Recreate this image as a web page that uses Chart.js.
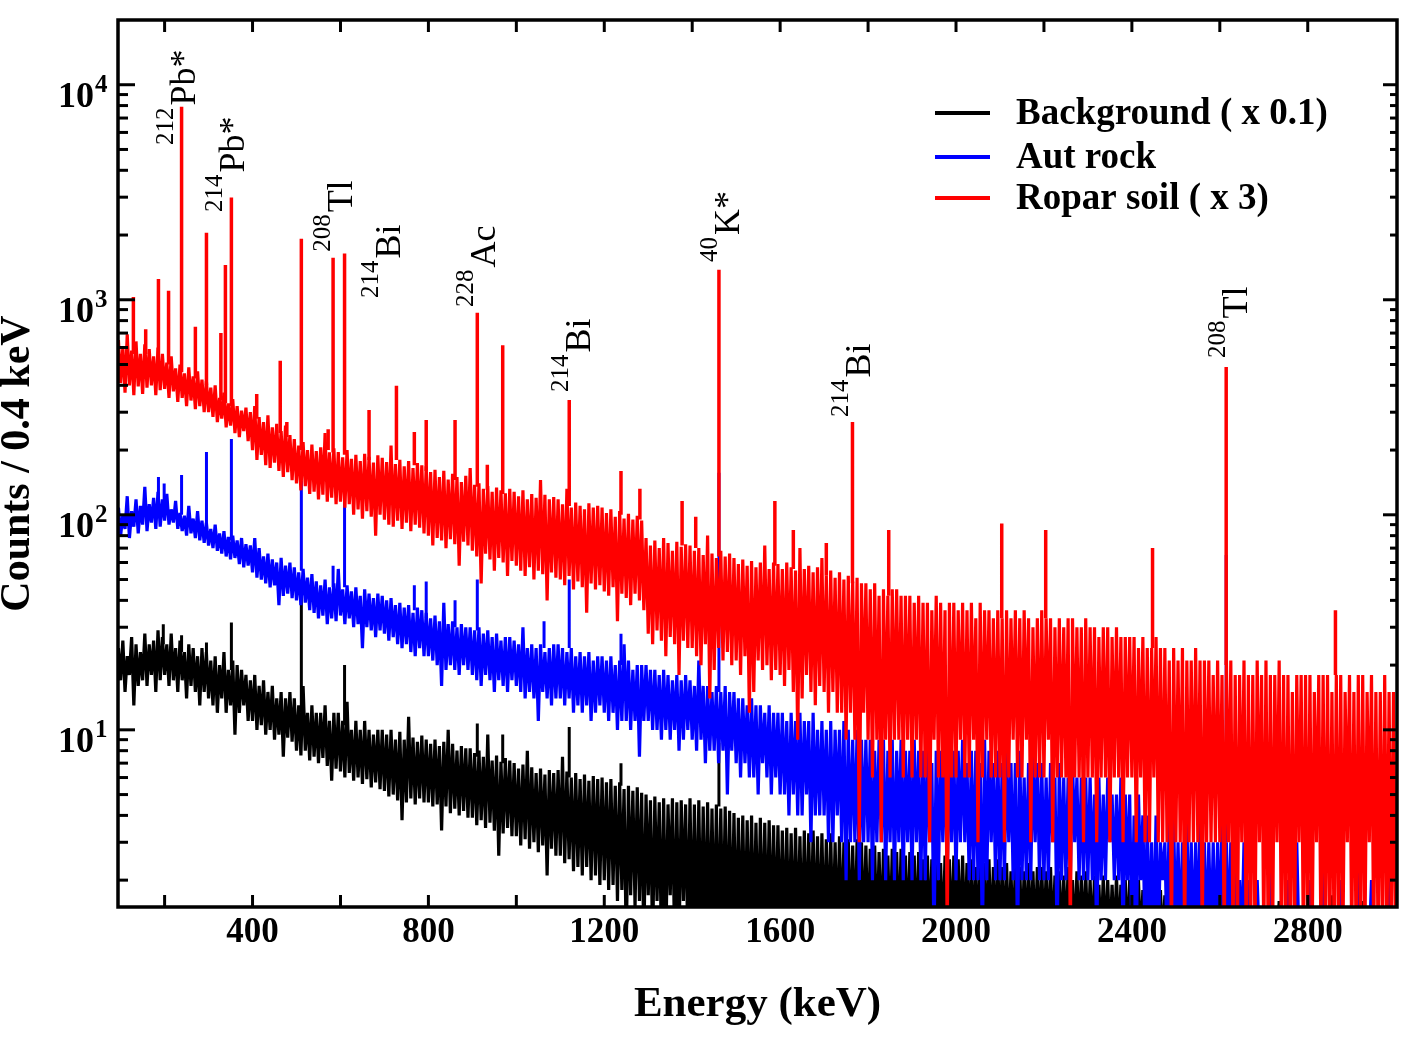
<!DOCTYPE html>
<html>
<head>
<meta charset="utf-8">
<title>Gamma-ray spectra</title>
<script src="https://cdn.jsdelivr.net/npm/chart.js@4.4.1/dist/chart.umd.min.js"></script>
<style>
  html, body { margin: 0; padding: 0; background: #fff; }
  canvas { display: block; }
</style>
</head>
<body>
<canvas id="spec" width="1416" height="1061"></canvas>
<script>
// ============================================================
// SPECTRA: 10 keV bins from 95 keV, hi = upper edge, lo = lower edge of the noise band
// (1 means the channel falls to zero, i.e. below the axis)
// ============================================================
const E_START = 95, E_STEP = 10;

const redHi = [
  650, 600, 690, 580, 640, 560, 620, 590, 545, 600,
  560, 510, 545, 480, 500, 455, 485, 440, 465, 425,
  420, 390, 400, 350, 370, 330, 345, 320, 305, 315,
  300, 320, 285, 270, 290, 255, 265, 245, 260, 235,
  225, 210, 218, 200, 212, 198, 206, 240, 195, 204,
  196, 185, 200, 182, 190, 178, 192, 186, 175, 189,
  184, 176, 210, 172, 180, 168, 178, 165, 174, 170,
  168, 158, 162, 150, 160, 146, 155, 150, 142, 152,
  165, 138, 140, 132, 136, 128, 134, 130, 126, 132,
  128, 122, 130, 118, 125, 120, 145, 124, 118, 121,
  118, 112, 132, 108, 114, 110, 106, 113, 108, 110,
  108, 102, 106, 98, 104, 96, 101, 95, 99, 94,
  78, 72, 76, 70, 78, 74, 68, 75, 71, 73,
  72, 68, 70, 65, 80, 66, 63, 68, 64, 66,
  63, 59, 62, 58, 61, 57, 60, 72, 56, 60,
  59, 56, 60, 57, 55, 70, 56, 58, 54, 57,
  63, 52, 55, 51, 54, 50, 52, 49, 51, 48,
  48, 45, 48, 42, 45, 42, 45, 45, 42, 42,
  42, 39, 42, 39, 39, 36, 42, 39, 36, 39,
  39, 36, 39, 36, 39, 33, 39, 36, 36, 33,
  36, 33, 36, 33, 36, 33, 36, 33, 30, 33,
  36, 33, 33, 30, 33, 30, 33, 33, 30, 30,
  33, 30, 30, 27, 30, 30, 27, 30, 27, 27,
  27, 27, 24, 27, 24, 24, 27, 24, 24, 21,
  24, 21, 24, 21, 21, 24, 21, 21, 21, 18,
  21, 18, 21, 21, 18, 18, 21, 18, 18, 21,
  18, 21, 18, 18, 21, 18, 18, 15, 18, 18,
  18, 18, 15, 18, 18, 18, 15, 18, 18, 15,
  18, 15, 18, 18, 15, 18, 15, 15, 18, 15,
  15
];
const redLo = [
  410, 370, 400, 360, 395, 365, 390, 400, 360, 380,
  385, 350, 375, 335, 350, 320, 340, 310, 320, 300,
  300, 285, 270, 280, 255, 260, 240, 230, 245, 220,
  200, 180, 190, 170, 165, 175, 160, 150, 158, 145,
  140, 130, 136, 125, 128, 118, 124, 115, 120, 112,
  115, 108, 112, 100, 106, 96, 104, 98, 80, 100,
  95, 90, 88, 94, 86, 92, 84, 90, 87, 82,
  80, 72, 78, 76, 70, 77, 73, 58, 75, 72,
  68, 64, 48, 66, 62, 55, 63, 60, 52, 61,
  58, 55, 52, 57, 50, 55, 53, 40, 54, 51,
  50, 47, 52, 45, 49, 46, 35, 48, 45, 47,
  44, 42, 46, 32, 43, 41, 38, 43, 40, 36,
  28, 25, 29, 26, 22, 27, 25, 18, 26, 24,
  24, 22, 20, 25, 14, 19, 24, 21, 23, 20,
  21, 18, 22, 12, 15, 21, 19, 20, 17, 19,
  18, 16, 19, 15, 9, 14, 18, 15, 13, 16,
  15, 12, 15, 12, 12, 9, 12, 9, 3, 12,
  9, 6, 9, 3, 9, 6, 9, 9, 6, 9,
  6, 9, 6, 6, 3, 9, 6, 6, 1, 6,
  6, 9, 6, 6, 9, 3, 6, 9, 6, 6,
  6, 3, 6, 9, 6, 6, 9, 3, 6, 6,
  6, 9, 3, 6, 6, 6, 1, 6, 6, 3,
  6, 6, 3, 6, 6, 3, 6, 6, 3, 6,
  6, 3, 6, 3, 3, 6, 3, 3, 3, 1,
  3, 3, 1, 3, 3, 3, 1, 3, 3, 3,
  3, 1, 3, 1, 1, 3, 1, 1, 1, 3,
  1, 1, 1, 3, 1, 1, 1, 1, 3, 1,
  1, 1, 3, 1, 1, 1, 1, 1, 1, 3,
  1, 1, 1, 1, 3, 1, 1, 1, 1, 1,
  1
];

const blueHi = [
  108, 100, 122, 104, 118, 110, 135, 112, 120, 128,
  118, 125, 106, 116, 102, 99, 110, 96, 104, 94,
  92, 86, 90, 82, 84, 79, 80, 76, 78, 73,
  72, 78, 70, 64, 66, 62, 60, 63, 58, 60,
  57, 54, 56, 51, 53, 49, 47, 50, 46, 48,
  56, 45, 47, 44, 46, 42, 45, 43, 41, 43,
  42, 40, 41, 38, 39, 37, 38, 35, 37, 36,
  35, 33, 34, 32, 39, 31, 32, 30, 31, 30,
  30, 29, 30, 28, 29, 27, 28, 26, 27, 27,
  26, 25, 30, 24, 25, 24, 25, 23, 24, 25,
  25, 24, 23, 24, 22, 23, 22, 23, 21, 22,
  22, 21, 22, 20, 21, 25, 21, 19, 20, 20,
  20, 19, 19, 18, 19, 18, 17, 18, 17, 18,
  17, 16, 21, 16, 16, 15, 16, 15, 16, 15,
  15, 14, 14, 13, 14, 13, 13, 12, 13, 12,
  12, 12, 11, 12, 11, 12, 11, 11, 12, 10,
  11, 10, 11, 10, 10, 11, 10, 9, 10, 9,
  9, 9, 8, 9, 9, 8, 9, 8, 9, 8,
  8, 9, 8, 8, 9, 7, 8, 8, 9, 8,
  8, 8, 9, 7, 8, 8, 7, 9, 8, 7,
  8, 7, 8, 7, 7, 8, 6, 7, 8, 7,
  7, 6, 7, 6, 7, 6, 6, 7, 6, 6,
  6, 6, 5, 6, 5, 6, 5, 5, 6, 5,
  5, 4, 5, 4, 4, 3, 4, 3, 3, 4,
  4, 3, 3, 4, 3, 3, 4, 3, 3, 3,
  3, 4, 3, 3, 3, 2, 3, 2, 1, 2,
  1, 1, 3, 1, 1, 1, 2, 1, 3, 1,
  1, 2, 1, 1, 3, 1, 1, 1, 2, 1,
  1, 1, 3, 1, 1, 2, 1, 1, 1, 3,
  1
];
const blueLo = [
  80, 86, 78, 88, 82, 90, 84, 92, 86, 88,
  94, 90, 92, 86, 84, 80, 82, 78, 76, 74,
  72, 70, 68, 66, 64, 62, 63, 59, 57, 58,
  54, 51, 50, 48, 46, 47, 38, 42, 43, 41,
  40, 38, 39, 36, 35, 33, 34, 31, 33, 32,
  34, 31, 33, 30, 31, 24, 30, 29, 27, 29,
  28, 26, 27, 25, 24, 25, 23, 22, 24, 22,
  22, 21, 20, 16, 19, 20, 19, 18, 20, 19,
  18, 17, 16, 18, 17, 15, 17, 16, 15, 17,
  16, 15, 14, 15, 14, 11, 15, 14, 13, 14,
  14, 13, 14, 12, 13, 12, 13, 11, 12, 13,
  12, 11, 12, 10, 11, 11, 10, 11, 7.5, 11,
  11, 10, 10, 9, 10, 9, 10, 8, 9, 10,
  9, 8, 9, 7, 8, 8, 7, 8, 5, 8,
  7, 6, 7, 6, 6, 5, 7, 6, 5, 6,
  5, 5, 4, 5, 4, 4, 5, 3, 4, 4,
  4, 3, 3, 4, 3, 2, 3, 3, 2, 3,
  3, 2, 3, 3, 2, 3, 2, 3, 2, 3,
  2, 3, 2, 2, 3, 1, 2, 3, 2, 3,
  2, 3, 3, 2, 2, 2, 1, 2, 3, 2,
  2, 2, 3, 2, 1, 2, 2, 2, 3, 2,
  2, 2, 3, 1, 2, 2, 2, 3, 2, 2,
  2, 2, 1, 2, 2, 3, 2, 2, 1, 2,
  1, 1, 2, 1, 1, 1, 1, 2, 1, 1,
  1, 1, 1, 1, 1, 1, 1, 1, 1, 1,
  1, 1, 1, 1, 1, 1, 1, 1, 1, 1,
  1, 1, 1, 1, 1, 1, 1, 1, 1, 1,
  1, 1, 1, 1, 1, 1, 1, 1, 1, 1,
  1, 1, 1, 1, 1, 1, 1, 1, 1, 1,
  1
];

const blackHi = [
  24, 26, 22, 27, 25, 23, 28, 25, 26, 29,
  27, 25, 28, 24, 26, 23, 25, 24, 22, 24,
  23, 21, 22, 20, 23, 19, 21, 20, 19, 18,
  17, 18, 16, 17, 15, 16, 14, 15, 14, 15,
  14, 13, 16, 12, 13, 12, 12, 13, 11, 12,
  12, 11, 13.5, 10, 11, 10, 11, 10, 9.5, 10,
  10, 9.5, 10, 9, 9.8, 9, 11.5, 9.2, 8.8, 9.4,
  9, 8.6, 9, 8.4, 8.8, 10, 8.6, 8, 8.4, 8.2,
  8.2, 7.8, 8, 7.5, 9.5, 7.2, 7.6, 7.1, 7.4, 7.2,
  7, 6.6, 6.9, 8, 6.7, 6.3, 6.6, 6.2, 6.5, 6.3,
  6.5, 7.5, 6.4, 6, 6.3, 5.9, 6.2, 5.8, 6.1, 5.9,
  6, 5.7, 5.9, 5.5, 5.7, 5.3, 5.5, 5.2, 5.4, 5.1,
  5, 4.7, 4.9, 4.6, 4.8, 4.5, 4.8, 4.6, 4.7, 4.5,
  4.8, 4.5, 4.7, 4.4, 4.6, 4.3, 4.5, 4.3, 4.4, 4.2,
  4.1, 3.9, 4, 3.8, 4, 3.7, 3.9, 3.7, 3.8, 3.6,
  3.6, 3.4, 3.5, 3.3, 3.5, 3.2, 3.4, 3.3, 3.4, 3.2,
  3.3, 3.1, 3.3, 3, 3.2, 3, 3.1, 2.9, 3.1, 3,
  2.9, 2.8, 2.9, 2.7, 2.8, 2.6, 2.8, 2.7, 2.8, 2.6,
  2.7, 2.6, 2.7, 2.5, 2.6, 2.5, 2.7, 2.4, 2.6, 2.5,
  2.6, 2.5, 2.6, 2.4, 2.5, 2.3, 2.5, 2.4, 2.5, 2.3,
  2.5, 2.3, 2.4, 2.2, 2.4, 2.3, 2.2, 2.4, 2.2, 2.3,
  2.3, 2.2, 2.3, 2.1, 2.2, 2.1, 2.3, 2, 2.2, 2.1,
  2.2, 2, 2.1, 1.9, 2.1, 2, 1.9, 2.1, 1.9, 2,
  2, 1.9, 2, 1.8, 1.9, 1.7, 1.9, 1.8, 1.7, 1.8,
  1.7, 1, 1.6, 1, 1, 1.7, 1, 1, 1.6, 1,
  1, 1, 1.6, 1, 1, 1, 1, 1.6, 1, 1,
  1, 1, 1, 1, 1.6, 1, 1, 1, 1, 1,
  1, 1, 1, 1, 1, 1, 1.7, 1, 1, 1,
  1, 1, 1, 1.6, 1, 1, 1, 1, 1, 1,
  1
];
const blackLo = [
  17, 15, 18, 13, 16, 17, 16, 18, 15, 17,
  18, 16, 17, 15, 17, 14, 16, 15, 13, 15,
  14, 13, 12, 14, 12, 13, 9.5, 12, 13, 11,
  11, 10, 10.5, 9.5, 10, 9, 9.5, 7.5, 9.2, 8.8,
  8, 7.6, 8, 7.2, 7.5, 7, 7.4, 6.8, 5.8, 6.6,
  6.4, 6, 6.3, 5.8, 6, 5.6, 5.9, 5.4, 5.7, 5.3,
  5.2, 4.9, 5, 4.7, 3.8, 4.6, 4.8, 4.5, 4.8, 4.6,
  4.6, 4.4, 4.5, 3.4, 4.4, 4.1, 4.3, 4, 4.2, 3.9,
  3.9, 3.6, 3.8, 3.5, 3.7, 3.4, 2.6, 3.3, 3.5, 3.2,
  3.2, 2.9, 3.1, 2.8, 3, 2.7, 2.9, 2.1, 2.8, 2.6,
  2.6, 2.4, 2.5, 2.2, 2.3, 2.1, 2.3, 2, 2.1, 1.9,
  2, 1.8, 1.9, 1.6, 1.8, 1, 1.7, 1.5, 1.6, 1,
  1.7, 1, 1.6, 1, 1, 1.7, 1, 1, 1.6, 1,
  1, 1, 1, 1, 1, 1, 1, 1, 1, 1,
  1, 1, 1, 1, 1, 1, 1, 1, 1, 1,
  1, 1, 1, 1, 1, 1, 1, 1, 1, 1,
  1, 1, 1, 1, 1, 1, 1, 1, 1, 1,
  1, 1, 1, 1, 1, 1, 1, 1, 1, 1,
  1, 1, 1, 1, 1, 1, 1, 1, 1, 1,
  1, 1, 1, 1, 1, 1, 1, 1, 1, 1,
  1, 1, 1, 1, 1, 1, 1, 1, 1, 1,
  1, 1, 1, 1, 1, 1, 1, 1, 1, 1,
  1, 1, 1, 1, 1, 1, 1, 1, 1, 1,
  1, 1, 1, 1, 1, 1, 1, 1, 1, 1,
  1, 1, 1, 1, 1, 1, 1, 1, 1, 1,
  1, 1, 1, 1, 1, 1, 1, 1, 1, 1,
  1, 1, 1, 1, 1, 1, 1, 1, 1, 1,
  1, 1, 1, 1, 1, 1, 1, 1, 1, 1,
  1, 1, 1, 1, 1, 1, 1, 1, 1, 1,
  1
];

// ============================================================
// PEAKS (keV, top, continuum under the peak)
// ============================================================
const redPeakE = [129, 157, 186, 209, 238.6, 270, 295.2, 328, 338.3, 351.9, 409.5, 463, 478, 511, 572,
  583.2, 609.3, 665, 727.3, 768, 795, 860.6, 911.2, 934, 969, 1120.3, 1238, 1281, 1377, 1408,
  1460.8, 1588, 1630, 1705, 1764.5, 1847, 2104, 2204, 2447, 2614.5, 2863];
const redPeakH = [1030, 730, 1250, 1100, 7900, 750, 2050, 700, 1450, 2990, 365, 520, 270, 1920, 250,
  1570, 1640, 307, 398, 243, 276, 276, 870, 171, 614, 342, 160, 132, 116, 98,
  1380, 116, 85, 74, 270, 85, 91, 85, 70, 487, 36];
const redPeakBase = [560, 560, 520, 500, 460, 430, 400, 340, 330, 320, 280, 240, 230, 200, 200,
  195, 190, 180, 180, 170, 160, 145, 135, 130, 125, 110, 100, 95, 72, 70,
  64, 58, 56, 52, 48, 42, 33, 33, 24, 20, 18];

const bluePeakE = [186, 199, 238.6, 295.2, 351.9, 511, 583.2, 609.3, 768, 795, 860.6, 911.2, 1063, 1120.3, 1238, 1460.8, 2614.5];
const bluePeakH = [150, 140, 153, 196, 225, 144, 58, 127, 47, 49, 40, 50, 32, 50, 28, 157, 65];
const bluePeakBase = [108, 108, 100, 88, 76, 55, 46, 46, 36, 33, 30, 29, 24, 24, 20, 15, 3];

const blackPeakE = [197, 238.6, 295.2, 351.9, 511, 609.3, 911.2, 969, 1120.3, 1238, 1460.8];
const blackPeakH = [31, 27.5, 25.5, 31.6, 42, 20, 10.7, 9.5, 10.3, 7, 8.7];
const blackPeakBase = [25, 23, 21, 19, 12, 10.5, 7.5, 7, 6, 5.5, 4.4];

// isotope labels: mass number, element, anchor (keV, counts) at the start of the label
const labelIso = ['212', '214', '208', '214', '228', '214', '40', '214', '208'];
const labelEl  = ['Pb*', 'Pb*', 'Tl', 'Bi', 'Ac', 'Bi', 'K*', 'Bi', 'Tl'];
const labelE   = [219, 330, 576, 685, 901, 1117, 1456, 1754, 2612];
const labelV   = [5240, 2560, 1670, 1020, 925, 372, 1500, 285, 536];

const legendText  = ['Background ( x 0.1)', 'Aut rock', 'Ropar soil ( x 3)'];
const legendColor = ['#000000', '#0000ff', '#ff0000'];

const yDecades = [1, 2, 3, 4];

// ============================================================
const SERIF = '"Liberation Serif", "Times New Roman", Times, serif';
const RED = '#ff0000', BLUE = '#0000ff', BLACK = '#000000';

function bandPoints(hi, lo) {
  const pts = [];
  hi.forEach((h, i) => {
    const e = E_START + i * E_STEP;
    pts.push({ x: e, y: h }, { x: e + E_STEP / 2, y: lo[i] });
  });
  return pts;
}

function stickPoints(es, hs, bs) {
  const pts = [];
  es.forEach((e, i) => pts.push({ x: e, y: bs[i] }, { x: e, y: hs[i] }, { x: e, y: null }));
  return pts;
}

function seg(ctx, x1, y1, x2, y2) {
  ctx.beginPath(); ctx.moveTo(x1, y1); ctx.lineTo(x2, y2); ctx.stroke();
}

const decorations = {
  id: 'decorations',
  afterDatasetsDraw(chart) {
    const { ctx, chartArea: a, scales: { x, y } } = chart;
    ctx.save();
    ctx.strokeStyle = '#000';
    ctx.fillStyle = '#000';
    ctx.lineCap = 'butt';

    // inward ticks, x
    ctx.lineWidth = 3;
    x.ticks.forEach(t => {
      if (t.value <= x.min || t.value >= x.max - 5) return;
      const px = x.getPixelForValue(t.value);
      seg(ctx, px, a.bottom, px, a.bottom - 12);
      seg(ctx, px, a.top, px, a.top + 12);
    });
    // inward ticks, y (log)
    for (let d = 0; d <= 4; d++) {
      for (let m = 1; m <= 9; m++) {
        const v = m * Math.pow(10, d);
        if (v <= y.min || v >= y.max) continue;
        const py = y.getPixelForValue(v);
        const major = m === 1;
        seg(ctx, a.left, py, a.left + (major ? 17 : 10), py);
        seg(ctx, a.right, py, a.right - (major ? 14 : 7), py);
      }
    }
    // frame
    ctx.lineWidth = 3.5;
    ctx.strokeRect(a.left, a.top, a.right - a.left, a.bottom - a.top);

    // y tick labels 10^n
    ctx.textBaseline = 'alphabetic';
    yDecades.forEach(d => {
      const py = y.getPixelForValue(Math.pow(10, d));
      ctx.textAlign = 'right';
      ctx.font = 'bold 36px ' + SERIF;
      ctx.fillText('10', a.left - 24, py + 22);
      ctx.textAlign = 'left';
      ctx.font = 'bold 25px ' + SERIF;
      ctx.fillText(String(d), a.left - 23, py + 7);
    });

    // isotope labels, rotated
    labelIso.forEach((iso, i) => {
      const px = x.getPixelForValue(labelE[i]);
      const py = y.getPixelForValue(labelV[i]);
      ctx.save();
      ctx.translate(px, py);
      ctx.rotate(-Math.PI / 2);
      ctx.textAlign = 'left';
      ctx.font = '25px ' + SERIF;
      ctx.fillText(iso, 0, 0);
      const w = ctx.measureText(iso).width;
      ctx.font = '36px ' + SERIF;
      ctx.fillText(labelEl[i], w + 2, 22);
      ctx.restore();
    });

    // legend
    ctx.lineWidth = 4;
    ctx.textAlign = 'left';
    ctx.font = 'bold 37px ' + SERIF;
    const rows = [113, 157, 198];
    legendText.forEach((t, i) => {
      ctx.strokeStyle = legendColor[i];
      seg(ctx, 935, rows[i], 990, rows[i]);
      ctx.fillStyle = '#000';
      ctx.fillText(t, 1016, rows[i] + 11);
    });
    ctx.restore();
  }
};

new Chart(document.getElementById('spec'), {
  type: 'line',
  data: {
    datasets: [
      { label: 'Ropar soil peaks', data: stickPoints(redPeakE, redPeakH, redPeakBase), borderColor: RED, borderWidth: 3.5 },
      { label: 'Ropar soil ( x 3)', data: bandPoints(redHi, redLo), borderColor: RED, borderWidth: 3.2 },
      { label: 'Aut rock peaks', data: stickPoints(bluePeakE, bluePeakH, bluePeakBase), borderColor: BLUE, borderWidth: 3 },
      { label: 'Aut rock', data: bandPoints(blueHi, blueLo), borderColor: BLUE, borderWidth: 3.2 },
      { label: 'Background peaks', data: stickPoints(blackPeakE, blackPeakH, blackPeakBase), borderColor: BLACK, borderWidth: 3 },
      { label: 'Background ( x 0.1)', data: bandPoints(blackHi, blackLo), borderColor: BLACK, borderWidth: 3.2 }
    ]
  },
  options: {
    responsive: false,
    animation: false,
    devicePixelRatio: 1,
    spanGaps: false,
    elements: {
      point: { radius: 0, hoverRadius: 0 },
      line: { tension: 0, fill: false, borderJoinStyle: 'bevel', borderCapStyle: 'butt' }
    },
    layout: { padding: { top: 20, right: 19, left: 0, bottom: 0 } },
    plugins: { legend: { display: false }, tooltip: { enabled: false } },
    scales: {
      x: {
        type: 'linear', min: 94, max: 3003,
        grid: { display: false, drawTicks: false }, border: { display: false },
        ticks: {
          stepSize: 200, includeBounds: false, autoSkip: false, maxRotation: 0, padding: 5,
          color: '#000', font: { family: SERIF, size: 35, weight: 'bold', lineHeight: 1.2 },
          callback: v => (v % 400 === 0 ? String(v) : '')
        },
        title: {
          display: true, text: 'Energy (keV)', color: '#000',
          font: { family: SERIF, size: 43, weight: 'bold', lineHeight: 1.2 },
          padding: { top: 0, bottom: 30 }
        },
        afterFit: s => { s.height = 154; }
      },
      y: {
        type: 'logarithmic', min: 1.5, max: 20000,
        grid: { display: false, drawTicks: false }, border: { display: false },
        ticks: { display: false },
        title: {
          display: true, text: 'Counts / 0.4 keV', color: '#000',
          font: { family: SERIF, size: 42, weight: 'bold', lineHeight: 1 },
          padding: { top: -3, bottom: 0 }
        },
        afterFit: s => { s.width = 118; }
      }
    }
  },
  plugins: [decorations]
});
</script>
</body>
</html>
